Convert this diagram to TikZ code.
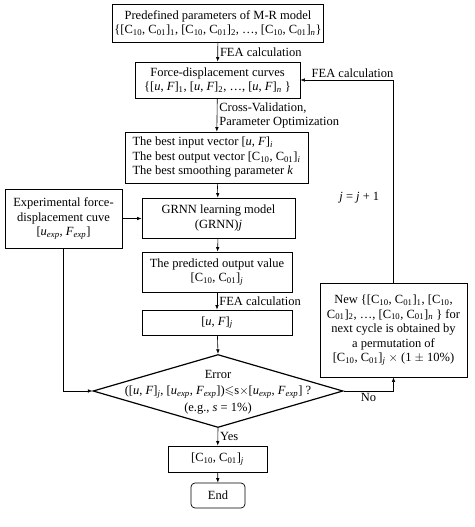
\documentclass[tikz,border=0pt]{standalone}
\usepackage{amsmath,amssymb}
\usepackage{fontspec}
\setmainfont{Liberation Serif}
\usetikzlibrary{shapes.geometric, arrows.meta, positioning}

\newcommand{\Cp}{[C\textsubscript{10}, C\textsubscript{01}]}
\newcommand{\uF}{[\textit{u}, \textit{F}]}
\newcommand{\uFexp}{[\textit{u}\textsubscript{\textit{exp}}, \textit{F}\textsubscript{\textit{exp}}]}
\newcommand{\sj}{\textsubscript{\textit{j}}}

\tikzset{
  box/.style={draw, line width=0.7pt, align=center, inner xsep=2pt, inner ysep=1pt, font=\fontsize{12.5}{14.5}\selectfont},
  arr/.style={-{Latex[length=4.5pt,width=3.5pt]}, line width=0.6pt},
  lbl/.style={font=\fontsize{12.5}{14}\selectfont, inner sep=2pt},
}

\begin{document}
\begin{tikzpicture}[x=1pt, y=-1pt]
  \useasboundingbox (0,0) rectangle (474,527);

  % Main column
  \node[box, minimum width=204pt, minimum height=38pt] (pre) at (218,23)
    {Predefined parameters of M-R model\\ \{\Cp\textsubscript{1}, \Cp\textsubscript{2}, \ldots, \Cp\textsubscript{\textit{n}}\}};
  \node[box, minimum width=165pt, minimum height=36pt] (curves) at (217.5,80)
    {Force-displacement curves\\ \{\uF\textsubscript{1}, \uF\textsubscript{2}, \ldots, \uF\textsubscript{\textit{n}} \}};
  \node[box, align=left, minimum width=183pt, minimum height=51pt] (best) at (216.5,157.5)
    {The best input vector \uF\textsubscript{\textit{i}}\\ The best output vector \Cp\textsubscript{\textit{i}}\\ The best smoothing parameter \textit{k}};
  \node[box, minimum width=153pt, minimum height=40pt] (grnn) at (218.5,218)
    {GRNN learning model\\ (GRNN)\textit{j}};
  \node[box, minimum width=150pt, minimum height=40pt] (pred) at (217,272)
    {The predicted output value\\ \Cp\sj};
  \node[box, minimum width=150pt, minimum height=25pt] (uf) at (217,322.5) {\uF\sj};

  % Experimental curve
  \node[box, minimum width=117pt, minimum height=59pt] (exp) at (63.5,218.5)
    {Experimental force-\\ displacement cuve\\ \uFexp};

  % Decision
  \node[draw, diamond, line width=1.2pt, minimum width=250pt, minimum height=73pt, inner sep=0pt] (err) at (218,391) {};
  \node[lbl, align=center, font=\fontsize{12.5}{16.5}\selectfont] (errtxt) at (218,392)
    {Error\\ (\uF\sj, \uFexp)$\leqslant$s$\times$\uFexp{} ?\\ (e.g., \textit{s} = 1\%)};

  \node[box, minimum width=99pt, minimum height=26pt] (res) at (217.5,459) {\Cp\sj};
  \node[box, rounded corners=4pt, minimum width=54pt, minimum height=25pt] (end) at (218,495.5) {End};

  % Update box
  \node[box, minimum width=147pt, minimum height=94pt] (new) at (393.5,330)
    {New \{\Cp\textsubscript{1}, [C\textsubscript{10},\\ C\textsubscript{01}]\textsubscript{2}, \ldots, \Cp\textsubscript{\textit{n}} \} for\\ next cycle is obtained by\\ a permutation of\\ \Cp\sj{} $\times$ (1 $\pm$ 10\%)};

  % Connectors
  \draw[arr] (pre) -- node[lbl, right] {FEA calculation} (curves);
  \draw[arr] (curves) -- node[lbl, right, align=left] {Cross-Validation,\\ Parameter Optimization} (best);
  \draw[arr] (best) -- (grnn);
  \draw[arr] (exp.east) -- (exp.east -| grnn.west);
  \draw[arr] (grnn) -- (pred);
  \draw[arr] (pred) -- node[lbl, right] {FEA calculation} (uf);
  \draw[arr] (uf) -- (err.north);
  \draw[arr] (exp.south) |- (err.west);
  \draw[arr] (err.south) -- node[lbl, right] {Yes} (res);
  \draw[arr] (res) -- (end);
  \draw[arr] (err.east) -| node[lbl, pos=0.25, below] {No} (new.south);
  \draw[arr] (new.north) |- node[lbl, pos=0.72, above] {FEA calculation}
    node[lbl, pos=0.21, left=12pt] {\textit{j} = \textit{j} + 1} (curves.east);
\end{tikzpicture}
\end{document}
